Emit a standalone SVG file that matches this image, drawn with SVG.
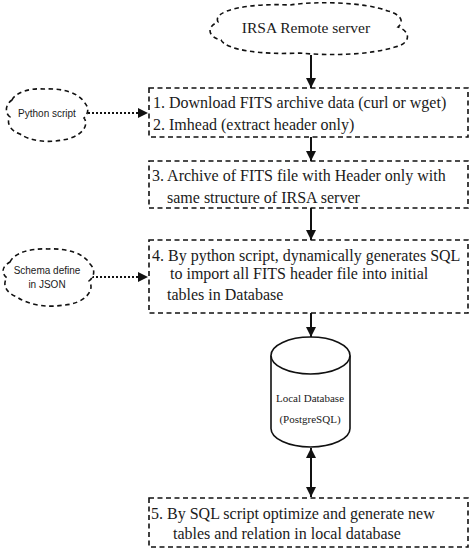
<svg xmlns="http://www.w3.org/2000/svg" width="474" height="552" viewBox="0 0 474 552">
<style>
.box{fill:#fff;stroke:#111;stroke-width:1.6;stroke-dasharray:5 3.5}
.cloud{fill:#fff;stroke:#111;stroke-width:1.6;stroke-dasharray:4.5 3.5}
.t{font-family:"Liberation Serif","Times New Roman",serif;font-size:16px;fill:#1a1a1a}
.s{font-family:"Liberation Sans",Arial,sans-serif;font-size:10px;fill:#1a1a1a}
.db{font-family:"Liberation Serif","Times New Roman",serif;font-size:11px;fill:#1a1a1a}
.arr{stroke:#111;stroke-width:2;fill:none}
.dot{stroke:#111;stroke-width:2;fill:none;stroke-dasharray:2 2}
</style>
<defs>
<marker id="ah" viewBox="0 0 10 10" refX="10" refY="5" markerWidth="5" markerHeight="5" orient="auto-start-reverse">
<path d="M0,0 L10,5 L0,10 Z" fill="#111"/>
</marker>
</defs>
<rect width="474" height="552" fill="#fff"/>
<g id="connectors">
<line class="arr" x1="311" y1="55" x2="311" y2="88" marker-end="url(#ah)"/>
<line class="arr" x1="311" y1="137" x2="311" y2="161" marker-end="url(#ah)"/>
<line class="arr" x1="311" y1="208" x2="311" y2="240" marker-end="url(#ah)"/>
<line class="arr" x1="311" y1="313" x2="311" y2="337" marker-end="url(#ah)"/>
<line class="arr" x1="311" y1="448" x2="311" y2="497" marker-start="url(#ah)" marker-end="url(#ah)"/>
<line class="dot" x1="84" y1="113" x2="148" y2="113" marker-end="url(#ah)"/>
<line class="dot" x1="88" y1="277" x2="148" y2="277" marker-end="url(#ah)"/>
</g>
<g id="irsa">
<path class="cloud" d="M218,22 C212,10 250,3 290,5 C315,1 365,2 388,11 C402,15 404,22 398,27 C412,32 410,44 395,47 C370,55 330,56 300,53 C262,55 226,50 221,40 C208,37 206,27 218,22 Z"/>
<text class="t" x="306" y="33" text-anchor="middle" style="font-size:15.5px">IRSA Remote server</text>
</g>
<g id="python">
<path class="cloud" d="M12,100 C16,92 30,88 44,89 C60,88 78,92 84,102 C90,108 88,114 84,118 C90,126 80,138 62,140 C48,143 30,141 20,134 C10,131 6,122 10,117 C4,112 6,104 12,100 Z"/>
<text class="s" x="47" y="117" text-anchor="middle">Python script</text>
</g>
<g id="schema">
<path class="cloud" d="M10,262 C14,253 30,248 48,249 C66,248 84,253 90,264 C96,270 94,277 89,281 C96,290 84,304 64,305 C48,308 28,305 17,297 C6,293 2,284 7,278 C0,272 3,266 10,262 Z"/>
<text class="s" x="47" y="273.5" text-anchor="middle">Schema define</text>
<text class="s" x="47" y="287.5" text-anchor="middle">in JSON</text>
</g>
<g id="step12">
<rect class="box" x="149" y="88" width="319" height="49"/>
<text class="t" x="153" y="108">1. Download FITS archive data (curl or wget)</text>
<text class="t" x="153" y="130">2. Imhead (extract header only)</text>
</g>
<g id="step3">
<rect class="box" x="149" y="161" width="319" height="47"/>
<text class="t" x="152" y="181">3. Archive of FITS file with Header only with</text>
<text class="t" x="167" y="203">same structure of IRSA server</text>
</g>
<g id="step4">
<rect class="box" x="149" y="240" width="319" height="73"/>
<text class="t" x="152" y="261">4. By python script, dynamically generates SQL</text>
<text class="t" x="170" y="279">to import all FITS header file into initial</text>
<text class="t" x="167" y="300">tables in Database</text>
</g>
<g id="database">
<path d="M271,355.5 L271,428.5 A39.5,18.5 0 0 0 350,428.5 L350,355.5" fill="#fff" stroke="#111" stroke-width="1.6"/>
<ellipse cx="310.5" cy="355.5" rx="39.5" ry="18.5" fill="#fff" stroke="#111" stroke-width="1.6"/>
<text class="db" x="310" y="402" text-anchor="middle">Local Database</text>
<text class="db" x="310" y="423" text-anchor="middle">(PostgreSQL)</text>
</g>
<g id="step5">
<rect class="box" x="149" y="498" width="319" height="49"/>
<text class="t" x="151" y="519">5. By SQL script optimize and generate new</text>
<text class="t" x="173" y="539">tables and relation in local database</text>
</g>
</svg>
